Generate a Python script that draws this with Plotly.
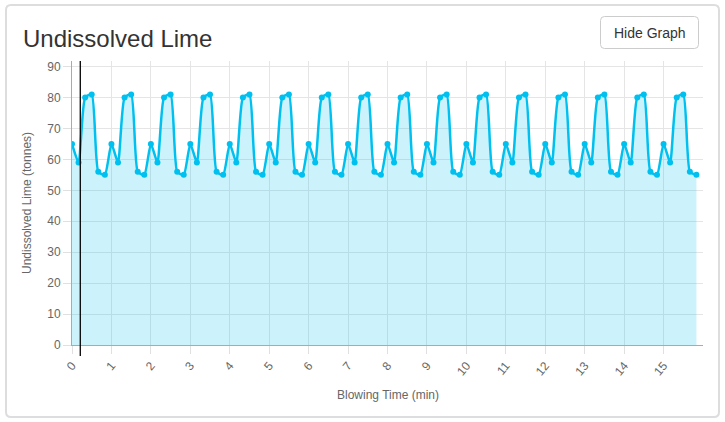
import plotly.graph_objects as go

# ---- data ----
time_sec = [
    0, 10, 20, 30, 40, 50, 60, 70, 80, 90, 100, 110,
    120, 130, 140, 150, 160, 170, 180, 190, 200, 210, 220, 230,
    240, 250, 260, 270, 280, 290, 300, 310, 320, 330, 340, 350,
    360, 370, 380, 390, 400, 410, 420, 430, 440, 450, 460, 470,
    480, 490, 500, 510, 520, 530, 540, 550, 560, 570, 580, 590,
    600, 610, 620, 630, 640, 650, 660, 670, 680, 690, 700, 710,
    720, 730, 740, 750, 760, 770, 780, 790, 800, 810, 820, 830,
    840, 850, 860, 870, 880, 890, 900, 910, 920, 930, 940, 950,
]
lime_tonnes = [
    65, 59, 80, 81, 56, 55, 65, 59, 80, 81, 56, 55,
    65, 59, 80, 81, 56, 55, 65, 59, 80, 81, 56, 55,
    65, 59, 80, 81, 56, 55, 65, 59, 80, 81, 56, 55,
    65, 59, 80, 81, 56, 55, 65, 59, 80, 81, 56, 55,
    65, 59, 80, 81, 56, 55, 65, 59, 80, 81, 56, 55,
    65, 59, 80, 81, 56, 55, 65, 59, 80, 81, 56, 55,
    65, 59, 80, 81, 56, 55, 65, 59, 80, 81, 56, 55,
    65, 59, 80, 81, 56, 55, 65, 59, 80, 81, 56, 55,
]
x_ticks = [0, 1, 2, 3, 4, 5, 6, 7, 8, 9, 10, 11, 12, 13, 14, 15]
y_ticks = [0, 10, 20, 30, 40, 50, 60, 70, 80, 90]
marker_time_min = 0.21

title_text = "Undissolved Lime"
x_title = "Blowing Time (min)"
y_title = "Undissolved Lime (tonnes)"
button_text = "Hide Graph"

time_min = [t / 60 for t in time_sec]

# ---- layout geometry (pixels) ----
W, H = 725, 422
L, R, T, B = 72, 703, 61, 345
PW, PH = R - L, B - T


def px(xp):
    return (xp - L) / PW


def py(yp):
    return (B - yp) / PH


def rounded_rect(x0, y0, x1, y1, r):
    rx = r / PW
    ry = r / PH
    a0, a1 = px(x0), px(x1)
    b0, b1 = py(y1), py(y0)
    return (
        f"M {a0 + rx},{b1} L {a1 - rx},{b1} Q {a1},{b1} {a1},{b1 - ry} "
        f"L {a1},{b0 + ry} Q {a1},{b0} {a1 - rx},{b0} "
        f"L {a0 + rx},{b0} Q {a0},{b0} {a0},{b0 + ry} "
        f"L {a0},{b1 - ry} Q {a0},{b1} {a0 + rx},{b1} Z"
    )


LINE = "rgb(0,192,239)"
FILL = "rgba(0,192,239,0.2)"
FONT = "Liberation Sans, Arial, sans-serif"

fig = go.Figure()
fig.add_trace(go.Scatter(
    x=time_min, y=lime_tonnes,
    mode="lines+markers",
    line=dict(color=LINE, width=2.5, shape="spline", smoothing=0.55),
    marker=dict(color=LINE, size=6),
    fill="tozeroy", fillcolor=FILL,
    hoverinfo="x+y", showlegend=False,
))

shapes = [
    dict(type="path", xref="paper", yref="paper",
         path=rounded_rect(6, 5, 719, 417, 5),
         line=dict(color="#dddddd", width=2), layer="below"),
    dict(type="path", xref="paper", yref="paper",
         path=rounded_rect(600.5, 16.5, 698.5, 48.5, 4),
         line=dict(color="#cccccc", width=1), fillcolor="white", layer="above"),
    dict(type="line", xref="x", yref="paper",
         x0=marker_time_min, x1=marker_time_min, y0=py(356), y1=1,
         line=dict(color="black", width=1.3), layer="above"),
]

annotations = [
    dict(text=title_text, xref="paper", yref="paper", x=px(21), y=py(38),
         xanchor="left", yanchor="middle", showarrow=False,
         font=dict(family=FONT, size=24, color="#333333")),
    dict(text=button_text, xref="paper", yref="paper", x=px(649.5), y=py(32.5),
         xanchor="center", yanchor="middle", showarrow=False,
         font=dict(family=FONT, size=14, color="#333333")),
    dict(text=x_title, xref="paper", yref="paper", x=px(388), y=py(395),
         xanchor="center", yanchor="middle", showarrow=False,
         font=dict(family=FONT, size=12, color="#666666")),
    dict(text=y_title, xref="paper", yref="paper", x=px(27), y=py(203),
         xanchor="center", yanchor="middle", showarrow=False, textangle=-90,
         font=dict(family=FONT, size=12, color="#666666")),
]

fig.update_layout(
    width=W, height=H,
    margin=dict(l=L, r=W - R, t=T, b=H - B, pad=0),
    paper_bgcolor="white", plot_bgcolor="white",
    font=dict(family=FONT, size=12, color="#666666"),
    shapes=shapes, annotations=annotations,
    showlegend=False,
    xaxis=dict(
        range=[0, 16], tickmode="array", tickvals=x_ticks,
        ticktext=[str(v) for v in x_ticks], tickangle=-50,
        showgrid=True, gridcolor="#e5e5e5", gridwidth=1,
        zeroline=False, showline=True, linecolor="#aaaaaa", linewidth=1,
        ticks="outside", ticklen=8, tickcolor="#e0e0e0",
        tickfont=dict(family=FONT, size=12, color="#666666"),
        fixedrange=True,
    ),
    yaxis=dict(
        range=[0, 91.8], tickmode="array", tickvals=y_ticks,
        showgrid=True, gridcolor="#e5e5e5", gridwidth=1,
        zeroline=False, showline=True, linecolor="#aaaaaa", linewidth=1,
        ticks="outside", ticklen=8, tickcolor="#e0e0e0",
        tickfont=dict(family=FONT, size=12, color="#666666"),
        fixedrange=True,
    ),
)

fig.write_html(
    "out.html",
    config=dict(displayModeBar=False),
    post_script="document.body.style.margin='0';document.body.style.padding='0';document.body.style.overflow='hidden';",
)
